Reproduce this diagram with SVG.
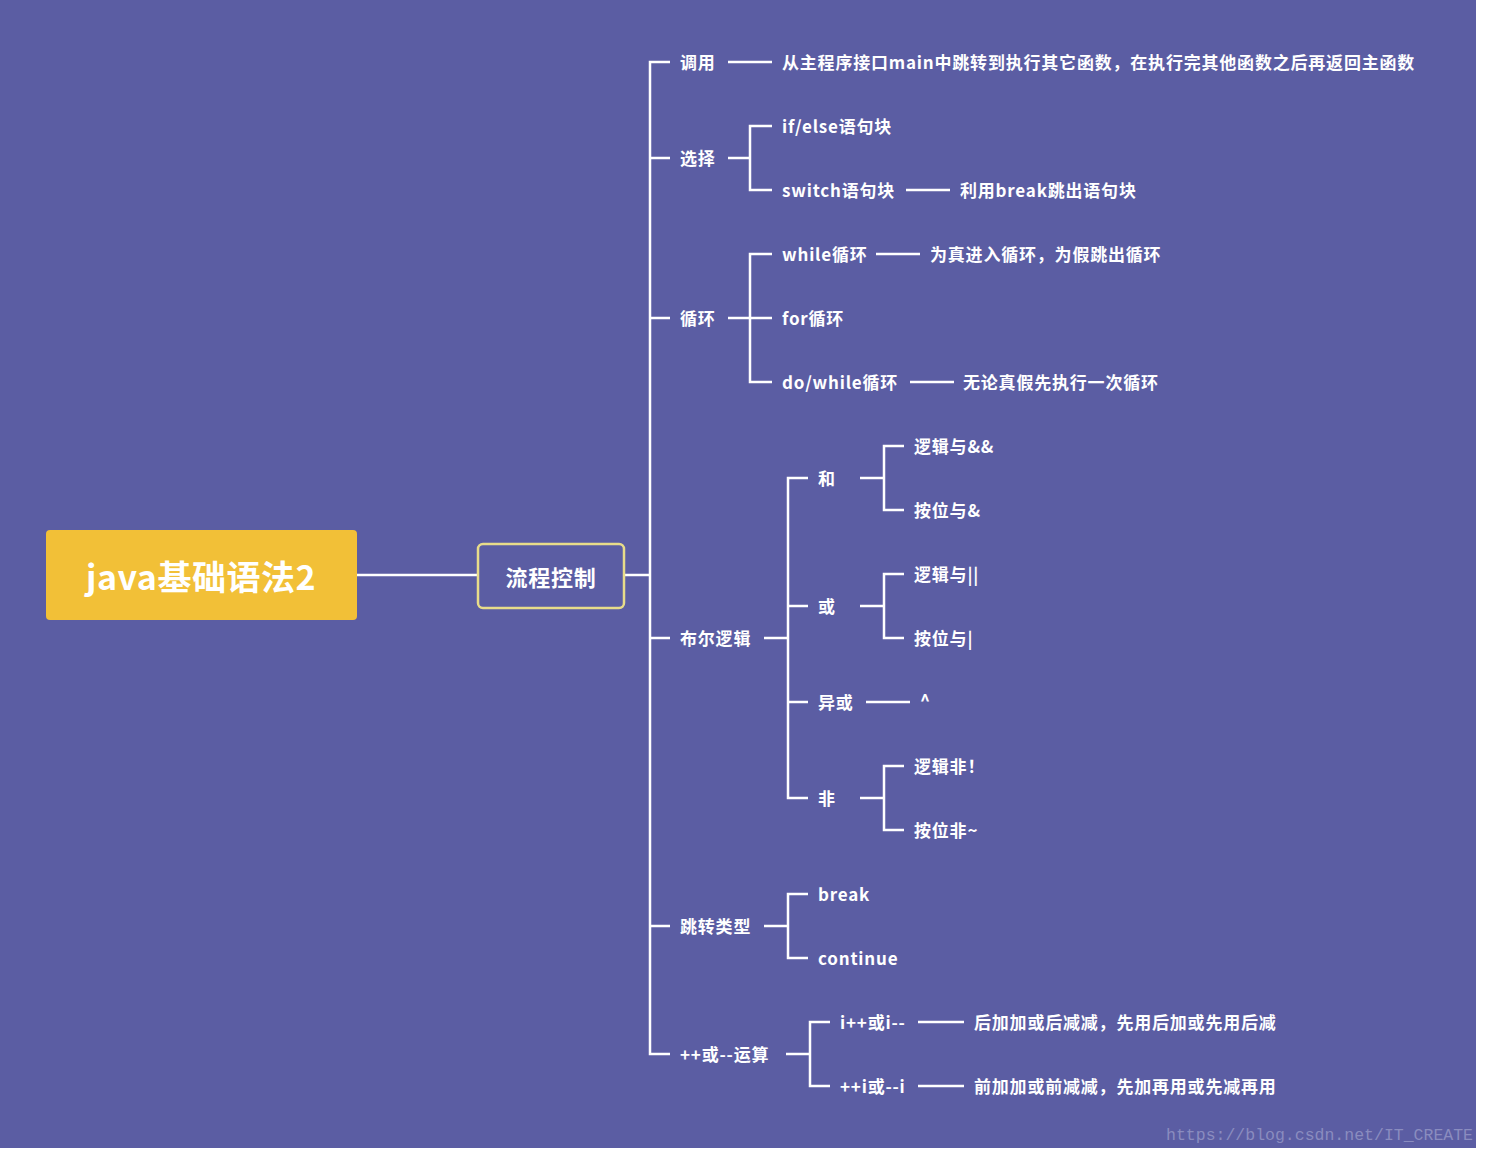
<svg xmlns="http://www.w3.org/2000/svg" width="1485" height="1155" viewBox="0 0 1485 1155">
<style>
text{font-family:"Noto Sans CJK SC","Noto Sans",sans-serif;font-weight:bold;fill:#fff;font-size:17px;dominant-baseline:central;letter-spacing:0.8px}
.c path{stroke:#fff;stroke-width:2.5;fill:none}
</style>
<rect width="1485" height="1155" fill="#fff"/>
<rect width="1476" height="1148" fill="#5b5da3"/>
<g class="c" id="connectors">
<path d="M357 575H477M625 575H650M670 62H650V1054H670M650 158H670M650 318H670M650 638H670M650 926H670"/>
<path d="M728 62H772M728 158H750M772 126H750V190H772M906 190H950"/>
<path d="M728 318H750M772 254H750V382H772M750 318H772M876 254H920M910 382H954"/>
<path d="M764 638H788M808 478H788V798H808M788 606H808M788 702H808"/>
<path d="M860 478H884M904 446H884V510H904M860 606H884M904 574H884V638H904M866 702H910M860 798H884M904 766H884V830H904"/>
<path d="M764 926H788M808 894H788V958H808"/>
<path d="M786 1054H810M830 1022H810V1086H830M918 1022H964M918 1086H964"/>
</g>
<g id="root"><rect x="46" y="530" width="311" height="90" rx="4" fill="#f2c037"/><text x="201" y="575" text-anchor="middle" style="font-size:34px;letter-spacing:0.5px">java基础语法2</text></g>
<g id="flow"><rect x="478" y="544" width="146" height="64" rx="5" fill="#5b5da3" stroke="#e8dc8a" stroke-width="2.5"/><text x="551" y="576" text-anchor="middle" style="font-size:22px">流程控制</text></g>
<g id="labels">
<text x="680" y="61">调用</text><text x="782" y="61">从主程序接口main中跳转到执行其它函数，在执行完其他函数之后再返回主函数</text>
<text x="680" y="157">选择</text><text x="782" y="125">if/else语句块</text><text x="782" y="189">switch语句块</text><text x="960" y="189">利用break跳出语句块</text>
<text x="680" y="317">循环</text><text x="782" y="253">while循环</text><text x="930" y="253">为真进入循环，为假跳出循环</text><text x="782" y="317">for循环</text><text x="782" y="381">do/while循环</text><text x="963" y="381">无论真假先执行一次循环</text>
<text x="680" y="637">布尔逻辑</text>
<text x="818" y="477">和</text><text x="914" y="445">逻辑与&amp;&amp;</text><text x="914" y="509">按位与&amp;</text>
<text x="818" y="605">或</text><text x="914" y="573">逻辑与||</text><text x="914" y="637">按位与|</text>
<text x="818" y="701">异或</text><text x="920" y="699">^</text>
<text x="818" y="797">非</text><text x="914" y="765">逻辑非！</text><text x="914" y="829">按位非~</text>
<text x="680" y="925">跳转类型</text><text x="818" y="893">break</text><text x="818" y="957">continue</text>
<text x="680" y="1053">++或--运算</text><text x="840" y="1021">i++或i--</text><text x="974" y="1021">后加加或后减减，先用后加或先用后减</text><text x="840" y="1085">++i或--i</text><text x="974" y="1085">前加加或前减减，先加再用或先减再用</text>
</g>
<text x="1473" y="1135" text-anchor="end" style="font-family:'Liberation Mono',monospace;font-weight:normal;font-size:16.5px;letter-spacing:0;fill:#8a8cbf">https://blog.csdn.net/IT_CREATE</text>
</svg>
